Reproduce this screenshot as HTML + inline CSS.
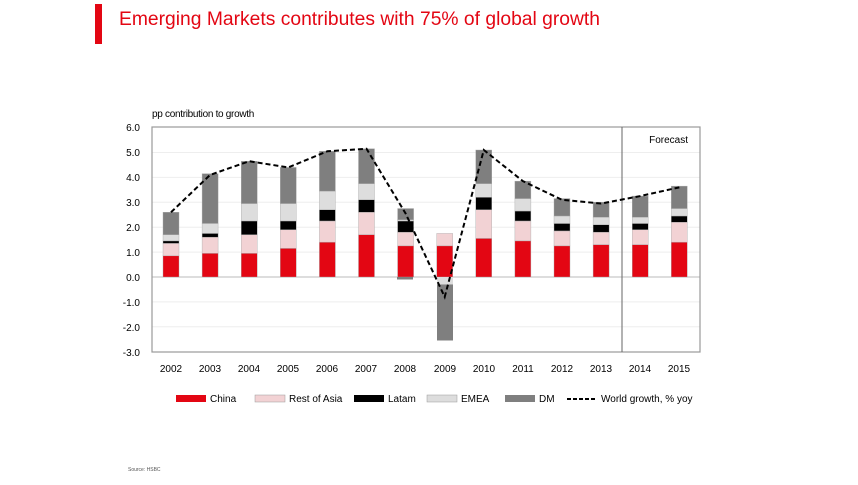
<!DOCTYPE html>
<html><head><meta charset="utf-8"><style>
body{margin:0;background:#fff;width:858px;height:480px;overflow:hidden;font-family:"Liberation Sans",sans-serif}
</style></head><body>
<svg id="s" width="858" height="480" xmlns="http://www.w3.org/2000/svg" font-family="Liberation Sans, sans-serif">
<rect x="95" y="4" width="7" height="40" fill="#e30613"/>
<text x="119" y="25" font-size="19" fill="#e30613" textLength="481" lengthAdjust="spacingAndGlyphs">Emerging Markets contributes with 75% of global growth</text>
<text x="152" y="117" font-size="10" fill="#000" letter-spacing="-0.3">pp contribution  to growth</text>
<g id="grid"></g>
<rect x="152" y="127" width="548" height="225" fill="none" stroke="#999" stroke-width="1.2"/>
<line x1="622" y1="127" x2="622" y2="352" stroke="#666" stroke-width="1"/>
<text x="688" y="143" font-size="10" text-anchor="end">Forecast</text>
<g font-size="10" text-anchor="end">
<text x="140" y="131">6.0</text><text x="140" y="156">5.0</text><text x="140" y="181">4.0</text>
<text x="140" y="206">3.0</text><text x="140" y="231">2.0</text><text x="140" y="256">1.0</text>
<text x="140" y="281">0.0</text><text x="140" y="306">-1.0</text><text x="140" y="331">-2.0</text>
<text x="140" y="356">-3.0</text></g>
<g font-size="10" text-anchor="middle">
<text x="171" y="372">2002</text><text x="210" y="372">2003</text><text x="249" y="372">2004</text>
<text x="288" y="372">2005</text><text x="327" y="372">2006</text><text x="366" y="372">2007</text>
<text x="405" y="372">2008</text><text x="445" y="372">2009</text><text x="484" y="372">2010</text>
<text x="523" y="372">2011</text><text x="562" y="372">2012</text><text x="601" y="372">2013</text>
<text x="640" y="372">2014</text><text x="679" y="372">2015</text></g>
<g id="bars"></g>
<polyline id="ln" fill="none" stroke="#000" stroke-width="2" stroke-dasharray="5,3"/>
<g font-size="10">
<rect x="176" y="395" width="30" height="7" fill="#e30613"/><text x="210" y="402">China</text>
<rect x="255" y="395" width="30" height="7" fill="#f2d2d4" stroke="#999" stroke-width="0.5"/><text x="289" y="402">Rest of Asia</text>
<rect x="354" y="395" width="30" height="7" fill="#000"/><text x="388" y="402">Latam</text>
<rect x="427" y="395" width="30" height="7" fill="#ddd" stroke="#999" stroke-width="0.5"/><text x="461" y="402">EMEA</text>
<rect x="505" y="395" width="30" height="7" fill="#7f7f7f"/><text x="539" y="402">DM</text>
<line x1="567" y1="399" x2="597" y2="399" stroke="#000" stroke-width="2" stroke-dasharray="4,2"/><text x="601" y="402">World growth, % yoy</text>
</g>
<text x="128" y="471" font-size="5" fill="#555">Source: HSBC</text>
</svg>
<script>
var Y=function(v){return 277-24.9*v};
var g=document.getElementById('grid'),h='';
for(var v=-2;v<=5;v++){if(v==0)continue;h+='<line x1="152" x2="700" y1="'+Y(v)+'" y2="'+Y(v)+'" stroke="#eee" stroke-width="1"/>';}
h+='<line x1="152" x2="700" y1="277" y2="277" stroke="#bbb" stroke-width="1"/>';
g.innerHTML=h;
var d=[[0.85,1.35,1.45,1.7,2.6],[0.95,1.6,1.75,2.15,4.15],[0.95,1.7,2.25,2.95,4.65],[1.15,1.9,2.25,2.95,4.4],[1.4,2.25,2.7,3.45,5.05],[1.7,2.6,3.1,3.75,5.15],[1.25,1.8,2.25,2.3,2.75],[1.25,1.75,1.75,1.75,1.75],[1.55,2.7,3.2,3.75,5.1],[1.45,2.25,2.65,3.15,3.85],[1.25,1.85,2.15,2.45,3.15],[1.3,1.8,2.1,2.4,3.0],[1.3,1.9,2.15,2.4,3.25],[1.4,2.2,2.45,2.75,3.65]];
var c=['#e30613','#f2d2d4','#000','#ddd','#7f7f7f'];
var w=[2.6,4.1,4.65,4.4,5.05,5.15,2.55,-0.8,5.1,3.85,3.1,2.95,3.25,3.6];
var b='',pts=[];
d.forEach(function(a,i){var x=171+i*39.1;var p=0;
a.forEach(function(t,k){if(t>p){b+='<rect x="'+(x-8)+'" y="'+Y(t)+'" width="16" height="'+(Y(p)-Y(t))+'" fill="'+c[k]+'" stroke="#aaa" stroke-width="0.4"/>';}p=t;});
pts.push(x+','+Y(w[i]));});
b+='<rect x="397" y="277" width="16" height="2.5" fill="#7f7f7f"/>';
b+='<rect x="437" y="277" width="16" height="'+(24.9*0.3)+'" fill="#ddd"/>';
b+='<rect x="437" y="'+Y(-0.3)+'" width="16" height="'+(24.9*2.25)+'" fill="#7f7f7f"/>';
document.getElementById('bars').innerHTML=b;
document.getElementById('ln').setAttribute('points',pts.join(' '));
</script>
</body></html>
